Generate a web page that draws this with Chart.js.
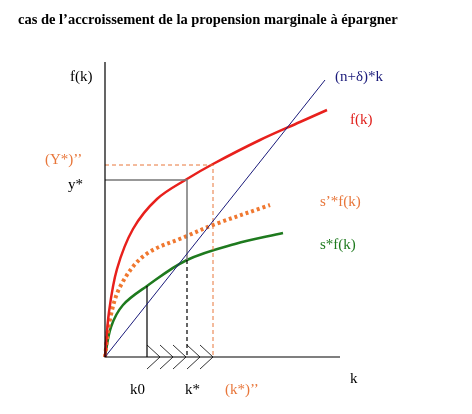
<!DOCTYPE html>
<html><head><meta charset="utf-8">
<script src="https://cdn.jsdelivr.net/npm/chart.js@4"></script>
<style>body{margin:0;background:#fff}#wrap{width:472px;height:414px;position:relative}</style>
</head><body><div id="wrap"><canvas id="c"></canvas></div>
<script>
const title = "cas de l\u2019accroissement de la propension marginale \u00e0 \u00e9pargner";
const fK = [[0,0],[4,45],[12,88],[28,128],[52,158],[82,178],[108,193],[155,217],[195,235],[222,247]];
const sPrimeF = [[0,0],[5,38],[16,72],[40,102],[82,121],[108,132],[165,152]];
const sF = [[0,0],[6,30],[18,52],[42,71],[82,97],[130,113],[178,124]];
const depLine = [[0,0],[220,277]];
const kStar = 82, kStarP = 108, k0 = 42, yStar = 177, yStarP = 192;
const chevronStarts = [42,55,68,82,95];
const labels = [
  {t:"f(k)", x:-35, y:280, c:"#000"},
  {t:"(n+\u03b4)*k", x:230, y:280, c:"#1a1a7a"},
  {t:"f(k)", x:245, y:237, c:"#e0201c"},
  {t:"(Y*)\u2019\u2019", x:-60, y:197, c:"#e8763a"},
  {t:"y*", x:-37, y:172, c:"#000"},
  {t:"s\u2019*f(k)", x:215, y:155, c:"#e8763a"},
  {t:"s*f(k)", x:215, y:112, c:"#1e7a1e"},
  {t:"k0", x:25, y:-33, c:"#000"},
  {t:"k*", x:80, y:-33, c:"#000"},
  {t:"(k*)\u2019\u2019", x:120, y:-33, c:"#e8763a"},
  {t:"k", x:245, y:-22, c:"#000"}
];

const pts = a => a.map(p => ({x:p[0], y:p[1]}));
const seg = (data, color, width, dash) => ({data: pts(data), borderColor: color, borderWidth: width, borderDash: dash || [], pointRadius: 0, fill: false, tension: 0});
const smooth = (data, color, width, dash) => Object.assign(seg(data, color, width, dash), {tension: 0.35});

const datasets = [
  seg([[0,295],[0,0],[235,0]], '#000', 1.2),
  seg(depLine, '#1a1a7a', 1),
  seg([[0,yStarP],[kStarP,yStarP],[kStarP,0]], '#e8763a', 1, [4,3]),
  seg([[0,yStar],[kStar,yStar],[kStar,97]], '#777', 1.5),
  seg([[kStar,97],[kStar,0]], '#000', 1.2, [4,3]),
  seg([[k0,71],[k0,0]], '#000', 1.2),
  smooth(fK, '#e8201c', 2.5),
  smooth(sPrimeF, '#f07830', 4, [3,3]),
  smooth(sF, '#1e7a1e', 2.5)
];
chevronStarts.forEach(s => datasets.push(seg([[s,-12],[s+13,0],[s,12]], '#333', 1)));

const textPlugin = {
  id: 'texts',
  afterDraw(chart) {
    const {ctx, scales: {x, y}} = chart;
    ctx.save();
    ctx.font = 'bold 14.5px "Liberation Serif"';
    ctx.fillStyle = '#000';
    ctx.textBaseline = 'middle';
    ctx.fillText(title, 18, 20);
    ctx.font = '15px "Liberation Serif"';
    labels.forEach(l => { ctx.fillStyle = l.c; ctx.fillText(l.t, x.getPixelForValue(l.x), y.getPixelForValue(l.y)); });
    ctx.restore();
  }
};

new Chart(document.getElementById('c'), {
  type: 'line',
  data: {datasets},
  options: {
    responsive: true, maintainAspectRatio: false, animation: false,
    layout: {padding: {left: 105, right: 127, top: 62, bottom: 27}},
    scales: {
      x: {type: 'linear', min: 0, max: 240, display: false},
      y: {type: 'linear', min: -30, max: 295, display: false}
    },
    plugins: {legend: {display: false}, tooltip: {enabled: false}},
    clip: false
  },
  plugins: [textPlugin]
});
</script></body></html>
